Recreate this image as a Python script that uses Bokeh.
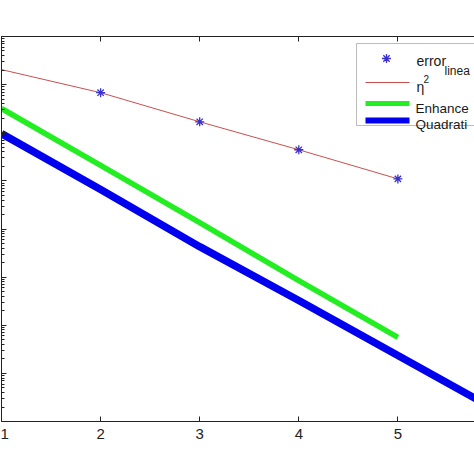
from bokeh.plotting import figure
from bokeh.models import LinearAxis, FixedTicker, Label, BoxAnnotation, Range1d
from bokeh.embed import file_html
from bokeh.resources import INLINE

# ---- data ----
x_vals = [1, 2, 3, 4, 5]
eta2 = [0.205, 0.068, 0.0169, 0.00443, 0.0011]
star_x = [2, 3, 4, 5]
error_linear = [0.068, 0.0169, 0.00443, 0.0011]
enh_x = [1, 2, 3, 4, 5]
enhanced = [0.0319, 0.00209, 1.36e-4, 8.5e-6, 5.6e-7]
quad_x = [1, 2, 3, 4, 5, 6]
quadratic = [9.6e-3, 6.6e-4, 4.3e-5, 3.27e-6, 2.35e-7, 1.7e-8]
x_ticks = [1, 2, 3, 4, 5, 6]
y_major = [10.0 ** k for k in range(-8, 1)]
y_minor = [m * 10.0 ** k for k in range(-8, 0) for m in range(2, 10)]
# legend texts as far as they are visible in the (cropped) reference
labels = ["error", "linea", "\u03b7", "2", "Enhance", "Quadrati"]

FONT = "Liberation Sans"
PX_PER_X = 99.1
PX_PER_DEC = 48.125


def px_to_x(px):
    return 1 + (px - 1) / PX_PER_X


def py_to_y(py):
    return 10 ** (-(py - 36) / PX_PER_DEC)


p = figure(width=474, height=474, x_range=Range1d(1, 1 + 473 / PX_PER_X),
           y_range=Range1d(1e-8, 1), y_axis_type="log",
           output_backend="svg", toolbar_location=None,
           min_border_left=1, min_border_right=0,
           min_border_top=36, min_border_bottom=53)
p.background_fill_color = "white"
p.border_fill_color = "white"
p.outline_line_color = None
p.grid.visible = False

xa = p.xaxis[0]
xa.ticker = FixedTicker(ticks=x_ticks)
xa.major_label_text_font = FONT
xa.major_label_text_font_size = "15px"
xa.major_label_text_color = "#222222"
xa.major_label_standoff = 7
xa.major_tick_in = 5
xa.major_tick_out = 0
xa.minor_tick_line_color = None
xa.axis_line_color = "#222222"
xa.major_tick_line_color = "#222222"

top = LinearAxis(ticker=FixedTicker(ticks=x_ticks))
top.major_label_text_font_size = "1px"
top.major_label_text_color = None
top.major_label_standoff = 0
top.major_tick_in = 5
top.major_tick_out = 0
top.minor_tick_line_color = None
top.axis_line_color = "#222222"
top.major_tick_line_color = "#222222"
p.add_layout(top, "above")

ya = p.yaxis[0]
ya.ticker = FixedTicker(ticks=y_major, minor_ticks=y_minor)
ya.major_label_text_font_size = "1px"
ya.major_label_text_color = None
ya.major_label_standoff = 0
ya.major_tick_in = 5
ya.major_tick_out = 0
ya.minor_tick_in = 3
ya.minor_tick_out = 0
ya.axis_line_color = "#222222"
ya.major_tick_line_color = "#222222"
ya.minor_tick_line_color = "#222222"

RED = "#c94f4f"
STAR = "#3a32c8"
GREEN = "#22ee22"
BLUE = "#0000ee"

p.line(x_vals, eta2, line_color=RED, line_width=1)
p.scatter(star_x, error_linear, marker="asterisk", size=9,
          line_color=STAR, line_width=1.3)
p.line(enh_x, enhanced, line_color=GREEN, line_width=5.5)
p.line(quad_x, quadratic, line_color=BLUE, line_width=7.5)

# ---- legend (drawn manually, cropped by the canvas edge) ----
box = BoxAnnotation(left=px_to_x(356), right=px_to_x(560),
                    top=py_to_y(43), bottom=py_to_y(125),
                    fill_color="white", fill_alpha=1.0,
                    line_color="#222222", line_width=1, level="underlay")
p.add_layout(box)

p.scatter([px_to_x(386)], [py_to_y(58)], marker="asterisk", size=9,
          line_color=STAR, line_width=1.3)
p.line([px_to_x(365), px_to_x(409)], [py_to_y(82), py_to_y(82)],
       line_color=RED, line_width=1)
p.line([px_to_x(365), px_to_x(409)], [py_to_y(103), py_to_y(103)],
       line_color=GREEN, line_width=5)
p.line([px_to_x(365), px_to_x(409)], [py_to_y(120), py_to_y(120)],
       line_color=BLUE, line_width=6)


def lab(text, px, py, size):
    p.add_layout(Label(x=px_to_x(px), y=py_to_y(py), text=text,
                       text_baseline="alphabetic", text_align="left",
                       text_font=FONT, text_font_size=size,
                       text_color="#1a1a1a"))


lab(labels[0], 416, 60, "14px")
lab(labels[1], 444, 70, "12px")
lab(labels[2], 416, 86, "14px")
lab(labels[3], 423, 78, "10px")
lab(labels[4], 415, 108, "13.5px")
lab(labels[5], 415, 124, "13.5px")

open("out.html", "w").write(file_html(p, INLINE))
